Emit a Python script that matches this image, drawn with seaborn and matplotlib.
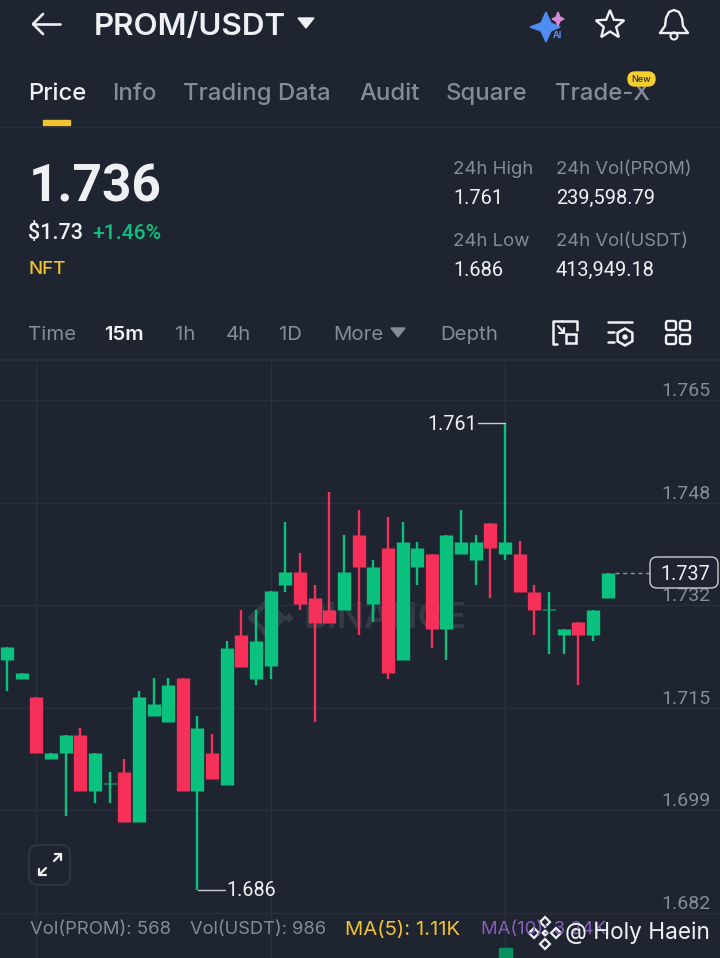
import numpy as np
import pandas as pd
import matplotlib
matplotlib.use('Agg')
import matplotlib.pyplot as plt
from matplotlib.patches import FancyBboxPatch, Polygon, Rectangle, Circle
import seaborn as sns

# PROM/USDT 15m candles
opens = [1.7229, 1.7199, 1.7169, 1.7069, 1.7079, 1.7108, 1.7017, 1.7029, 1.7048, 1.6967, 1.7139,
         1.7129, 1.7200, 1.7017, 1.7079, 1.7027, 1.7270, 1.7199, 1.7220, 1.7351, 1.7372, 1.7330,
         1.7310, 1.7310, 1.7432, 1.7320, 1.7411, 1.7229, 1.7380, 1.7401, 1.7280, 1.7401, 1.7391,
         1.7451, 1.7401, 1.7401, 1.7339, 1.7310, 1.7270, 1.7291, 1.7270, 1.7330]
closes = [1.7250, 1.7208, 1.7079, 1.7079, 1.7108, 1.7017, 1.7079, 1.7030, 1.6967, 1.7169, 1.7158,
          1.7189, 1.7017, 1.7119, 1.7037, 1.7249, 1.7218, 1.7260, 1.7341, 1.7372, 1.7320, 1.7289,
          1.7289, 1.7372, 1.7380, 1.7380, 1.7208, 1.7420, 1.7411, 1.7280, 1.7432, 1.7420, 1.7420,
          1.7411, 1.7420, 1.7339, 1.7310, 1.7312, 1.7280, 1.7270, 1.7310, 1.7370]
highs = [1.7250, 1.7208, 1.7169, 1.7079, 1.7108, 1.7119, 1.7079, 1.7048, 1.7069, 1.7179, 1.7200,
         1.7200, 1.7200, 1.7139, 1.7110, 1.7260, 1.7310, 1.7310, 1.7341, 1.7453, 1.7402, 1.7351,
         1.7501, 1.7432, 1.7472, 1.7391, 1.7461, 1.7453, 1.7420, 1.7401, 1.7432, 1.7472, 1.7432,
         1.7451, 1.7613, 1.7422, 1.7351, 1.7339, 1.7280, 1.7291, 1.7310, 1.7370]
lows = [1.7179, 1.7199, 1.7079, 1.7069, 1.6977, 1.7017, 1.6998, 1.6998, 1.6967, 1.6967, 1.7139,
        1.7129, 1.7017, 1.6857, 1.7037, 1.7027, 1.7218, 1.7189, 1.7199, 1.7339, 1.7310, 1.7129,
        1.7289, 1.7310, 1.7270, 1.7291, 1.7199, 1.7229, 1.7351, 1.7249, 1.7229, 1.7401, 1.7351,
        1.7330, 1.7391, 1.7339, 1.7270, 1.7239, 1.7239, 1.7189, 1.7260, 1.7330]

price_ticks = [1.7650, 1.7484, 1.7318, 1.7152, 1.6986, 1.6820]
price_labels = ['1.765', '1.748', '1.732', '1.715', '1.699', '1.682']
time_ticks = [2, 18, 34]

BG = '#1e2531'
GRID = '#2a313d'
GREEN = '#0ac27d'
RED = '#f7305a'
WHITE = '#eef0f3'
GRAY = '#858c99'
YELLOW = '#f3c22f'
NUM = ['Roboto', 'DejaVu Sans']

sns.set_theme(style='dark', rc={'figure.facecolor': BG, 'axes.facecolor': BG})
plt.rcParams['font.family'] = ['Inter', 'DejaVu Sans']

fig = plt.figure(figsize=(7.2, 9.58), dpi=100)

ang4 = np.deg2rad(np.arange(0, 360, 90))

# watermark sits under the candles
wm = fig.add_axes([0, 0, 1, 1], zorder=0)
wm.set_xlim(0, 720)
wm.set_ylim(958, 0)
wm.axis('off')
WM_COL = '#343b47'
wm.add_patch(Polygon(np.c_[267 + 16 * np.cos(ang4), 618 + 16 * np.sin(ang4)], fill=False, ec=WM_COL, lw=4))
wm.add_patch(Polygon(np.c_[289 + 4 * np.cos(ang4), 618 + 4 * np.sin(ang4)], color=WM_COL))
wm.text(303, 619, 'BINANCE', fontsize=26, color=WM_COL, fontweight='semibold', va='center')

# chart panel covers y=360..958 px of the screenshot
ax = fig.add_axes([0, 0, 1, 598 / 958], zorder=1)
ax.patch.set_alpha(0)
idx = list(range(len(opens)))
direction = ['up' if c >= o else 'down' for o, c in zip(opens, closes)]

wicks = pd.DataFrame({
    'candle': idx + idx,
    'price': lows + highs,
    'dir': direction + direction,
    'x': idx + idx,
})
bodies = pd.DataFrame({
    'candle': idx + idx,
    'price': opens + closes,
    'dir': direction + direction,
    'x': idx + idx,
})
palette = {'up': GREEN, 'down': RED}
sns.lineplot(data=wicks, x='x', y='price', hue='dir', units='candle', estimator=None, sort=False,
             palette=palette, linewidth=1.7, solid_capstyle='butt', legend=False, ax=ax, zorder=3)
sns.lineplot(data=bodies, x='x', y='price', hue='dir', units='candle', estimator=None, sort=False,
             palette=palette, linewidth=9.6, solid_capstyle='butt', legend=False, ax=ax, zorder=4)

ax.set_xlim(-7 / 14.65, 713 / 14.65)
ax.set_ylim(1.765 - 558 * 0.0001618, 1.765 + 40 * 0.0001618)
ax.set_xticks(time_ticks)
ax.set_xticklabels([])
ax.set_yticks(price_ticks)
ax.set_yticklabels(price_labels)
ax.set_xlabel('')
ax.set_ylabel('')
ax.yaxis.tick_right()
ax.tick_params(axis='y', length=0, pad=-7, labelsize=14, labelcolor=GRAY)
ax.tick_params(axis='x', length=0)
for lab in ax.get_yticklabels():
    lab.set_ha('right')
    lab.set_va('bottom')
    lab.set_family(NUM)
ax.grid(True, color=GRID, linewidth=1)
ax.set_axisbelow(True)
sns.despine(ax=ax, left=True, bottom=True)
ax.spines['top'].set_visible(True)
ax.spines['top'].set_color(GRID)

# everything else is screen furniture, drawn in pixel coordinates
ui = fig.add_axes([0, 0, 1, 1], zorder=5)
ui.set_xlim(0, 720)
ui.set_ylim(958, 0)
ui.axis('off')
ui.patch.set_alpha(0)


def label(x, y, s, size=13, color=WHITE, weight='normal', ha='left', **kw):
    ui.text(x, y + 2, s, fontsize=size, color=color, fontweight=weight, ha=ha, va='center', **kw)


def number(x, y, s, size=14.4, color=WHITE, weight='normal', ha='left', **kw):
    ui.text(x, y + 1, s, fontsize=size, color=color, fontweight=weight, ha=ha, va='center',
            family=NUM, **kw)


def stroke(xs, ys, color=WHITE, lw=1.6, **kw):
    ui.plot(xs, ys, color=color, lw=lw, solid_capstyle='round', solid_joinstyle='round', **kw)


# header
stroke([33, 60], [24, 24], lw=1.9)
stroke([43, 33, 43], [14, 24, 34], lw=1.9)
label(94, 24.5, 'PROM/USDT', size=22.6, weight='semibold')
ui.add_patch(Polygon([[298, 18], [314, 18], [306, 28]], color=WHITE))

# AI sparkle
ui.add_patch(Polygon([[530, 27], [541, 23], [546, 12], [551, 23], [560, 27], [551, 31], [546, 42], [541, 31]],
                     color='#4f8df5'))
ui.add_patch(Polygon([[552, 19], [556, 17], [558, 12], [560, 17], [564, 19], [560, 21], [558, 26], [556, 21]],
                     color='#d68ad8'))
label(553, 33, 'AI', size=6.5, color='#5a8cf0', weight='bold')

# star
ang = np.deg2rad(np.arange(-90, 270, 36))
rad = np.array([15, 6.5] * 5)
ui.add_patch(Polygon(np.c_[610 + rad * np.cos(ang), 25 + rad * np.sin(ang)], fill=False, ec=WHITE, lw=1.7))

# bell
stroke([660, 665, 666, 669, 674, 679, 682, 683, 688, 660],
       [33, 26, 18, 12, 10, 12, 18, 26, 33, 33], lw=1.7)
ui.add_patch(Circle((674, 36), 3.5, fill=False, ec=WHITE, lw=1.5))

# tabs
tab_names = ['Price', 'Info', 'Trading Data', 'Audit', 'Square', 'Trade-X']
tab_x = [28, 112, 183, 359, 446, 555]
for i, (nm, tx) in enumerate(zip(tab_names, tab_x)):
    label(tx, 92, nm, size=17.2, color=WHITE if i == 0 else GRAY, weight='medium')
ui.add_patch(FancyBboxPatch((628, 72), 27, 14, boxstyle='round,pad=0,rounding_size=7', color='#f6cf2c', zorder=5))
label(641, 77, 'New', size=6.5, color='#262b33', ha='center', zorder=6, weight='medium')
ui.add_patch(Rectangle((43, 120), 27, 5, color=YELLOW))
stroke([0, 720], [127, 127], color=GRID, lw=1)

# price summary
number(29, 186, '1.736', size=37, weight='bold')
number(28, 232, '$1.73', size=15.5, weight='medium')
number(92, 232, '+1.46%', size=15.2, color=GREEN, weight='medium')
label(28, 268, 'NFT', size=13.5, color=YELLOW, weight='medium')
label(453, 167, '24h High', size=13.4, color=GRAY)
number(453, 197, '1.761')
label(556, 167, '24h Vol(PROM)', size=13.3, color=GRAY)
number(556, 197, '239,598.79')
label(453, 239, '24h Low', size=13.4, color=GRAY)
number(453, 269, '1.686')
label(556, 239, '24h Vol(USDT)', size=13.3, color=GRAY)
number(556, 269, '413,949.18')

# interval row
int_names = ['Time', '15m', '1h', '4h', '1D', 'More', 'Depth']
int_x = [28, 104, 175, 226, 279, 333, 440]
for nm, tx in zip(int_names, int_x):
    on = nm == '15m'
    label(tx, 333, nm, size=14.7, color=WHITE if on else GRAY, weight='semibold' if on else 'normal')
ui.add_patch(Polygon([[391, 328], [405, 328], [398, 337]], color=GRAY))

# toolbar icons
stroke([557, 553, 553, 562], [344, 344, 321, 321], lw=1.8)
stroke([562, 577, 577], [321, 321, 330], lw=1.8)
stroke([558, 564], [326, 333], lw=1.5)
stroke([559, 564, 564], [333, 333, 328], lw=1.5)
ui.add_patch(Rectangle((566, 334), 10, 9, fill=False, ec=WHITE, lw=1.8))
stroke([608, 632], [322, 322], lw=1.8)
stroke([608, 614], [332, 332], lw=1.8)
stroke([608, 614], [342, 342], lw=1.8)
ang6 = np.deg2rad(np.arange(-90, 270, 60))
ui.add_patch(Polygon(np.c_[625 + 8.5 * np.cos(ang6), 337 + 8.5 * np.sin(ang6)], fill=False, ec=WHITE, lw=1.8))
ui.add_patch(Circle((625, 337), 2, color=WHITE))
for gx in (666, 680):
    for gy in (321, 335):
        ui.add_patch(FancyBboxPatch((gx, gy), 10, 9, boxstyle='round,pad=0,rounding_size=2',
                                    fill=False, ec=WHITE, lw=1.7))

# high/low markers
stroke([478, 505], [423, 423], color='#c9ccd1', lw=1)
number(427, 423, '1.761', size=14.2)
stroke([198, 225], [890, 890], color='#c9ccd1', lw=1)
number(226, 890, '1.686', size=14.2)

# last price tag
ui.plot([615, 650], [573, 573], color='#8a909a', lw=1, ls=(0, (3, 2.5)))
ui.add_patch(FancyBboxPatch((650, 557), 68, 31, boxstyle='round,pad=0,rounding_size=7',
                            fc=BG, ec='#c9ccd1', lw=1, zorder=6))
number(685, 573, '1.737', size=14.2, ha='center', zorder=7)

# expand button
ui.add_patch(FancyBboxPatch((29, 845), 41, 40, boxstyle='round,pad=0,rounding_size=9',
                            fc=BG, ec='#323945', lw=1.2))
stroke([39, 46], [875, 868])
stroke([39, 39, 46], [869, 875, 875])
stroke([54, 61], [861, 854])
stroke([55, 61, 61], [854, 854, 860])

# volume panel header and the bit of it that shows
label(30, 928, 'Vol(PROM): 568', size=13.3, color=GRAY)
label(190, 928, 'Vol(USDT): 986', size=13.2, color=GRAY)
label(345, 928, 'MA(5): 1.11K', size=14.6, color=YELLOW)
label(481, 928, 'MA(10): 3.24K', size=13.3, color='#8560b8')
ui.add_patch(Rectangle((499, 948), 13, 10, color='#0a8f62'))
number(710, 965, '15.6K', size=14, color=GRAY, ha='right', clip_on=True)

# reposter mark over the bottom row
for cx, cy, r in [(545, 922, 5), (545, 944, 5), (534, 933, 5), (556, 933, 5)]:
    ui.add_patch(Polygon(np.c_[cx + r * np.cos(ang4), cy + r * np.sin(ang4)], fill=False, ec=WHITE, lw=1.6))
ui.add_patch(Polygon(np.c_[545 + 3 * np.cos(ang4), 933 + 3 * np.sin(ang4)], color=WHITE))
label(565, 931, '@ Holy Haein', size=16.3, color=WHITE)

fig.savefig('out.png', dpi=100, facecolor=BG)
